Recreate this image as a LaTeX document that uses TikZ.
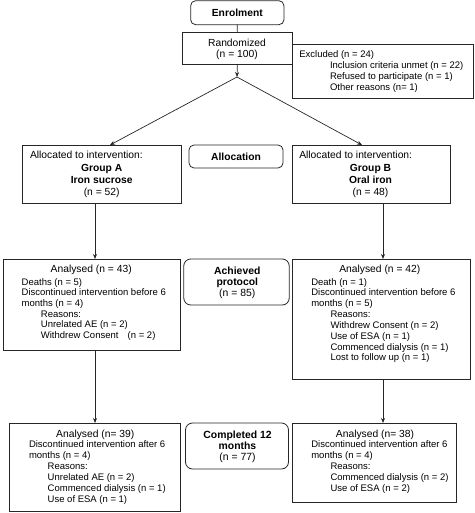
\documentclass[tikz,border=0pt]{standalone}
\usepackage{fontspec}
\setmainfont{Liberation Sans}
\usetikzlibrary{arrows.meta,calc}
\newcommand{\fs}{\fontsize{10.3}{11}\selectfont}
\newcommand{\fsw}{\fontsize{10.3}{12.2}\selectfont}
\newcommand{\ind}{\hspace*{19.2pt}}
\begin{document}
\begin{tikzpicture}[x=1pt,y=-1pt,
 box/.style={draw=black!85, line width=0.8pt, inner sep=0pt, outer sep=0pt, anchor=north west},
 rbox/.style={box, rounded corners=5pt, font=\fs\bfseries, anchor=center},
 txt/.style={inner sep=0pt, outer sep=0pt, font=\fs, align=left, anchor=north west},
 ctxt/.style={txt, align=center, anchor=north},
 body/.style={txt, font=\fontsize{9.5}{#1}\selectfont},
 body/.default=10.9,
 arr/.style={draw=black!85, line width=0.7pt, -{Stealth[length=5pt,width=4pt]}},
 ln/.style={draw=black!85, line width=0.7pt}]
\useasboundingbox (0,0) rectangle (474,513);

% boxes
\node[rbox, minimum width=93.3pt, minimum height=24pt] (en) at (237.3,12.7) {Enrolment};
\node[box, minimum width=109.3pt, minimum height=32pt] (ra) at (182.7,32) {};
\node[box, minimum width=181pt, minimum height=54pt] (ex) at (292,44) {};
\node[box, minimum width=159pt, minimum height=58pt] (ga) at (22,145) {};
\node[rbox, minimum width=94pt, minimum height=23pt] (al) at (236,156.5) {Allocation};
\node[box, minimum width=158pt, minimum height=58pt] (gb) at (292,145) {};
\node[box, minimum width=177pt, minimum height=91pt] (aa) at (3,259) {};
\node[rbox, rounded corners=7pt, minimum width=105.5pt, minimum height=46pt] (ach) at (236.5,282) {};
\node[box, minimum width=178pt, minimum height=120pt] (ab) at (292,259) {};
\node[box, minimum width=171.7pt, minimum height=88.5pt] (a3) at (9,423) {};
\node[rbox, rounded corners=7pt, minimum width=103pt, minimum height=46pt] (cp) at (237,446) {};
\node[box, minimum width=164pt, minimum height=79pt] (b3) at (292,423) {};

% texts
\node[ctxt] (rat) at (237,39) {\strut Randomized\\(n = 100)};
\node[body=11.2] (ext) at (299.3,49.5) {\strut Excluded (n = 24)\\
 \hspace*{30.7pt}Inclusion criteria unmet (n = 22)\\
 \hspace*{30.7pt}Refused to participate (n = 1)\\
 \hspace*{30.7pt}Other reasons (n= 1)};

\node[txt] (gal) at (30,151) {\strut Allocated to intervention:};
\node[ctxt, font=\fsw] (gat) at (101.7,162.7) {\strut\textbf{Group A}\\\textbf{Iron sucrose}\\(n = 52)};
\node[txt] (gbl) at (299.3,151) {\strut Allocated to intervention:};
\node[ctxt, font=\fsw] (gbt) at (370.5,162.7) {\strut\textbf{Group B}\\\textbf{Oral iron}\\(n = 48)};

\node[ctxt] (aat) at (91.2,265) {\strut Analysed (n = 43)};
\node[body=10.72] (aal) at (21.7,277.5) {\strut Deaths (n = 5)\\
 Discontinued intervention before 6\\
 months (n = 4)\\
 \ind Reasons:\\
 \ind Unrelated AE (n = 2)\\
 \ind Withdrew Consent\hspace*{9.2pt}(n = 2)};

\node[ctxt, font=\fontsize{10.4}{10.6}\selectfont] (acht) at (237.3,266.7) {\strut\textbf{Achieved}\\\textbf{protocol}\\(n = 85)};

\node[ctxt] (abt) at (379.8,265) {\strut Analysed (n = 42)};
\node[body=10.83] (abl) at (311.3,277.5) {\strut Death (n = 1)\\
 Discontinued intervention before 6\\
 months (n = 5)\\
 \ind Reasons:\\
 \ind Withdrew Consent (n = 2)\\
 \ind Use of ESA (n = 1)\\
 \ind Commenced dialysis (n = 1)\\
 \ind Lost to follow up (n = 1)};

\node[ctxt] (a3t) at (95.3,429.3) {\strut Analysed (n= 39)};
\node[body=11.05] (a3l) at (29,439.8) {\strut Discontinued intervention after 6\\
 months (n = 4)\\
 \hspace*{18.7pt}Reasons:\\
 \hspace*{18.7pt}Unrelated AE (n = 2)\\
 \hspace*{18.7pt}Commenced dialysis (n = 1)\\
 \hspace*{18.7pt}Use of ESA (n = 1)};

\node[ctxt, font=\fontsize{10.4}{10.6}\selectfont] (cpt) at (237.5,430.5) {\strut\textbf{Completed 12}\\\textbf{months}\\(n = 77)};

\node[ctxt] (b3t) at (375,429.3) {\strut Analysed (n= 38)};
\node[body=11] (b3l) at (311.3,439.8) {\strut Discontinued intervention after 6\\
 months (n = 4)\\
 \ind Reasons:\\
 \ind Commenced dialysis (n = 2)\\
 \ind Use of ESA (n = 2)};

% connectors
\coordinate (split) at (237,77);
\draw[ln] (en.south) -- (ra.north);
\draw[arr] (ra.south) -- (split);
\draw[arr] (split) -- ([xshift=8.5pt]ga.north);
\draw[arr] (split) -- ([xshift=-9pt]gb.north);
\draw[arr] ([xshift=-6.5pt]ga.south) -- ([xshift=-6.5pt]ga.south |- aa.north);
\draw[arr] ([xshift=3.5pt]aa.south) -- ([xshift=3.5pt]aa.south |- a3.north);
\draw[arr] ([xshift=12pt]gb.south) -- ([xshift=12pt]gb.south |- ab.north);
\draw[arr] ([xshift=2pt]ab.south) -- ([xshift=2pt]ab.south |- b3.north);
\end{tikzpicture}
\end{document}
